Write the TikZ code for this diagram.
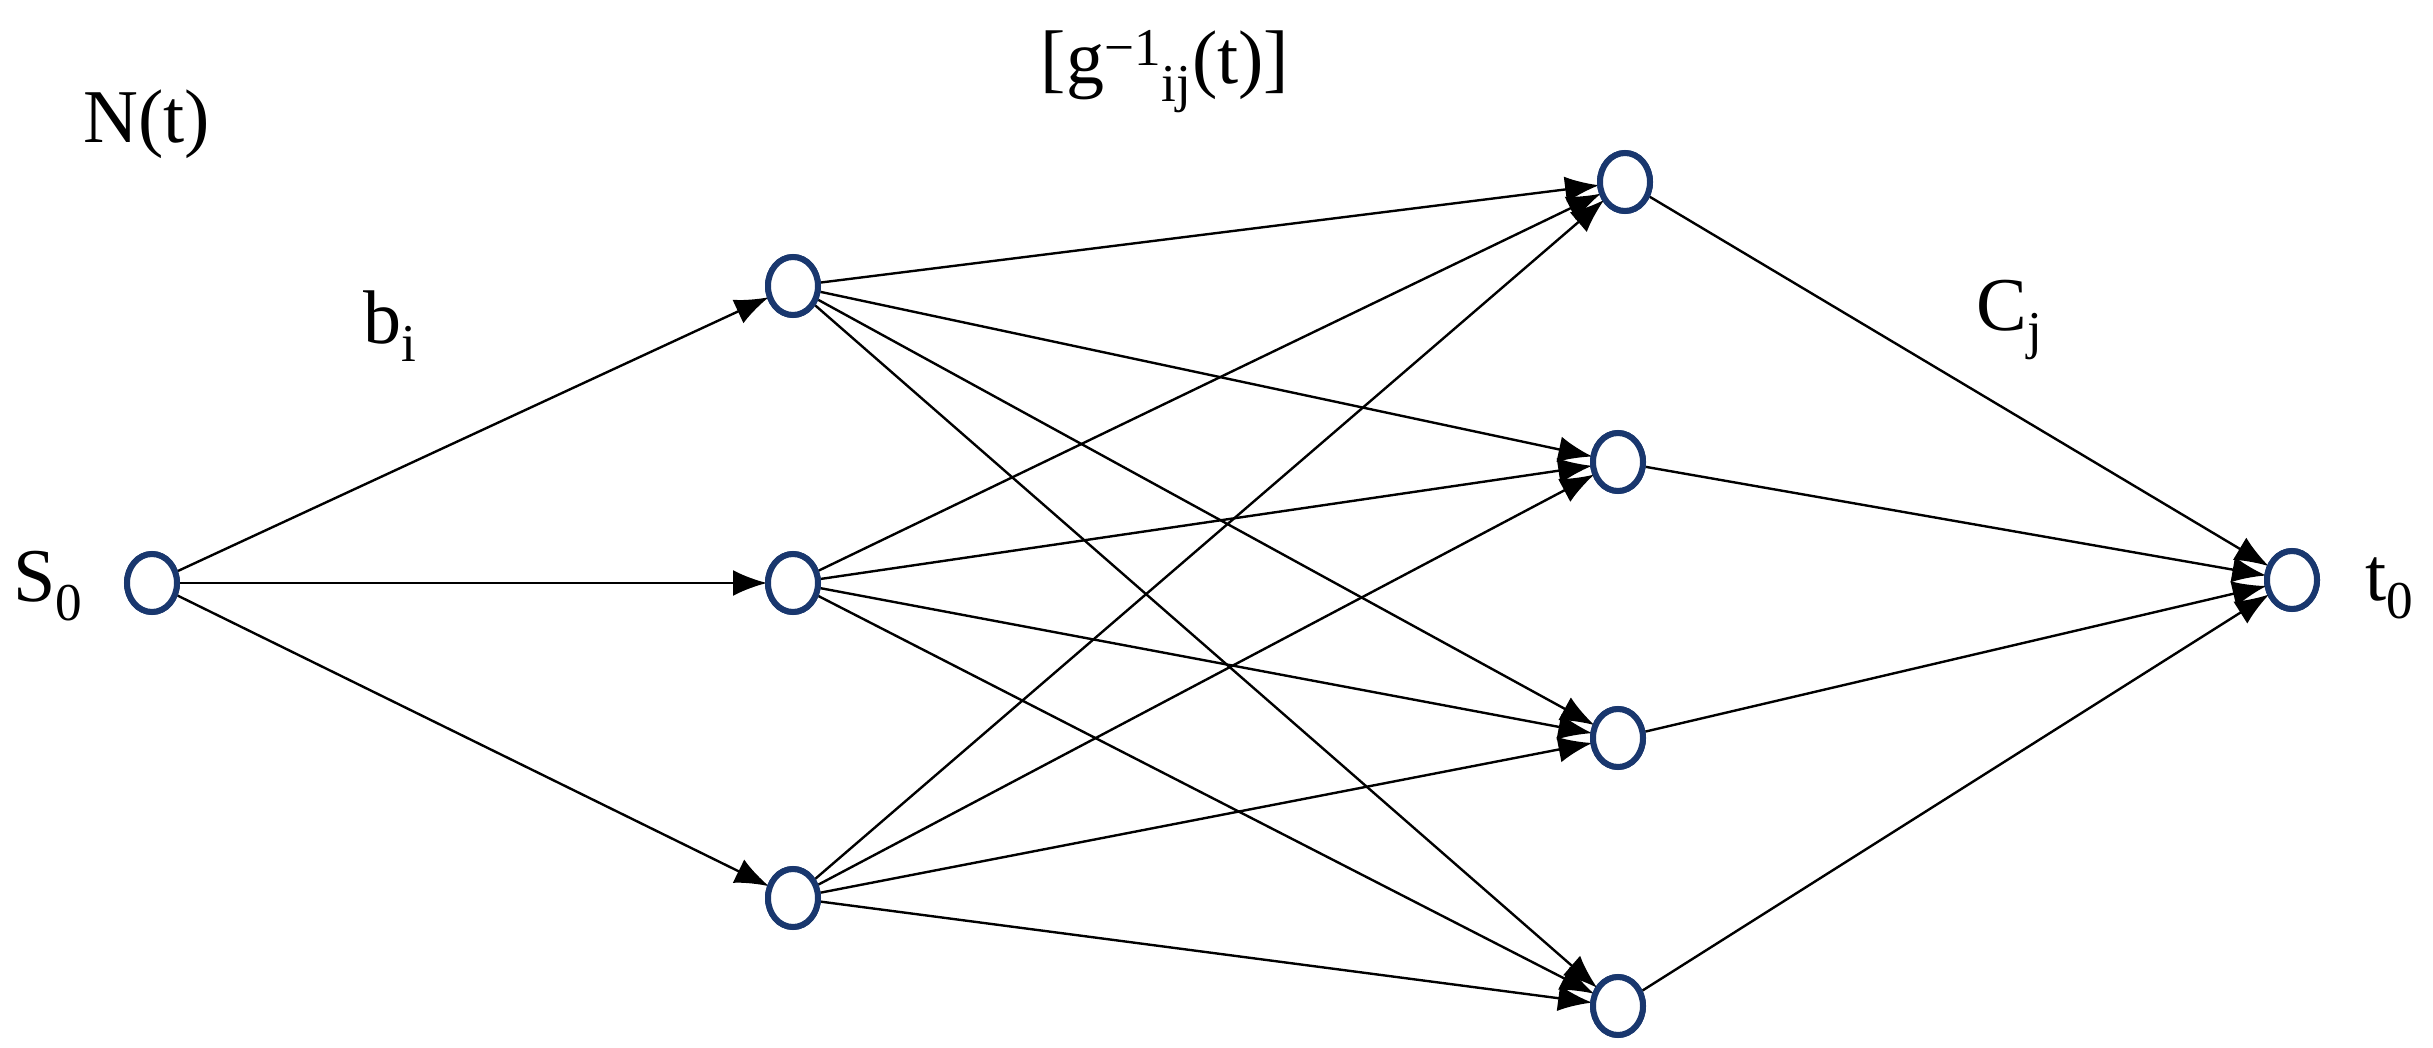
\documentclass[tikz,border=0pt]{standalone}
\usepackage{fontspec}
\setmainfont{Liberation Serif}
\usetikzlibrary{arrows.meta,shapes.geometric}
\definecolor{nodeblue}{RGB}{25,55,110}
\begin{document}
\begin{tikzpicture}[x=0.5pt,y=-0.5pt,
  vtx/.style={ellipse,draw=nodeblue,line width=3pt,minimum width=25pt,minimum height=29pt,inner sep=0pt,fill=white},
  edge/.style={-{Latex[length=17pt,width=13pt]},line width=1.2pt,black,shorten >=-1pt},
  lbl/.style={font=\fontsize{38}{44}\selectfont,inner sep=0pt}]
\useasboundingbox (0,0) rectangle (2433,1048);
\node[vtx] (s) at (152,583) {};
\node[vtx] (m1) at (793,286) {};
\node[vtx] (m2) at (793,583) {};
\node[vtx] (m3) at (793,898) {};
\node[vtx] (r1) at (1625,182) {};
\node[vtx] (r2) at (1618,462) {};
\node[vtx] (r3) at (1618,738) {};
\node[vtx] (r4) at (1618,1006) {};
\node[vtx] (t) at (2292,580) {};
\foreach \m in {m1,m2,m3} \draw[edge] (s) -- (\m);
\foreach \m in {m1,m2,m3} \foreach \r in {r1,r2,r3,r4} \draw[edge] (\m) -- (\r);
\foreach \r in {r1,r2,r3,r4} \draw[edge] (\r) -- (t);
\node[lbl] (nt) at (147,124) {N(t)};
\node[lbl] (bi) at (390,326) {b\textsubscript{i}};
\node[lbl] (g) at (1165,72) {[g\textsuperscript{−1}\textsubscript{ij}(t)]};
\node[lbl] (cj) at (2010,320) {C\textsubscript{j}};
\node[lbl] (sl) at (48,586) {S\textsubscript{0}};
\node[lbl] (tl) at (2390,588) {t\textsubscript{0}};
\foreach \n in {s,m1,m2,m3,r1,r2,r3,r4,t} \node[vtx] at (\n) {};
\end{tikzpicture}
\end{document}
